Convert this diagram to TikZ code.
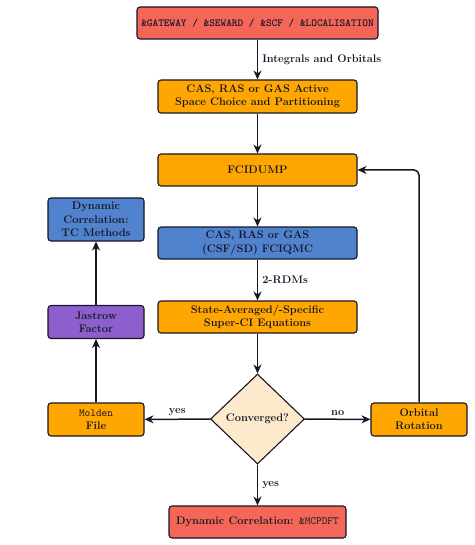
\documentclass[tikz,border=0pt]{standalone}
\usepackage{xcolor}
\usepackage{tikz}
\usetikzlibrary{arrows.meta}
\usetikzlibrary{shapes.geometric, calc}

\definecolor{ink}{RGB}{22,22,38}
\definecolor{redbox}{RGB}{244,102,88}
\definecolor{orangebox}{RGB}{255,166,0}
\definecolor{bluebox}{RGB}{80,130,205}
\definecolor{purplebox}{RGB}{140,95,205}
\definecolor{decision}{RGB}{253,234,204}

\begin{document}
\begin{tikzpicture}[x=1pt, y=-1pt,
    box/.style={draw=ink, line width=1.1pt, rounded corners=3pt, align=center,
        text=ink, font=\fontsize{11}{13.4}\selectfont\bfseries, inner sep=1pt},
    arr/.style={draw=ink, line width=1.5pt, -{Stealth[length=9pt,width=8pt]}},
    lbl/.style={text=ink, font=\fontsize{11}{13.4}\selectfont\bfseries, inner sep=1pt}]
    \useasboundingbox (0,0) rectangle (474,545);

    % Main column
    \node[box, fill=redbox, minimum width=241pt, minimum height=32pt] (input) at (257.5,23)
        {\fontsize{10.8}{13}\selectfont\ttfamily\&GATEWAY / \&SEWARD / \&SCF / \&LOCALISATION};
    \node[box, fill=orangebox, minimum width=199pt, minimum height=33pt] (space) at (257.5,96.5)
        {CAS, RAS or GAS Active\\Space Choice and Partitioning};
    \node[box, fill=orangebox, minimum width=199pt, minimum height=32pt] (fcidump) at (257.5,170) {FCIDUMP};
    \node[box, fill=bluebox, minimum width=199pt, minimum height=32pt] (fciqmc) at (257.5,243)
        {CAS, RAS or GAS\\(CSF/SD) FCIQMC};
    \node[box, fill=orangebox, minimum width=199pt, minimum height=32pt] (superci) at (257.5,317)
        {State-Averaged/-Specific\\Super-CI Equations};
    \node[draw=ink, line width=1.1pt, fill=decision, diamond, minimum width=94pt, minimum height=90pt,
        inner sep=1pt, text=ink, font=\fontsize{11}{13.4}\selectfont\bfseries] (conv) at (257.5,419) {Converged?};
    \node[box, fill=redbox, minimum width=177pt, minimum height=32pt] (mcpdft) at (257.5,522)
        {Dynamic Correlation: {\ttfamily\mdseries\&MCPDFT}};

    % Side boxes
    \node[box, fill=orangebox, minimum width=96pt, minimum height=33pt] (molden) at (96,419.5)
        {{\ttfamily\mdseries Molden}\\File};
    \node[box, fill=orangebox, minimum width=96pt, minimum height=33pt] (rotation) at (419,419.5)
        {Orbital\\Rotation};
    \node[box, fill=purplebox, minimum width=96pt, minimum height=33pt] (jastrow) at (96,322)
        {Jastrow\\Factor};
    \node[box, fill=bluebox, minimum width=96pt, minimum height=43pt] (tc) at (96,219.5)
        {Dynamic\\Correlation:\\TC Methods};

    % Arrows
    \draw[arr] (input) -- node[lbl, right=3pt] {Integrals and Orbitals} (space);
    \draw[arr] (space) -- (fcidump);
    \draw[arr] (fcidump) -- (fciqmc);
    \draw[arr] (fciqmc) -- node[lbl, right=3pt] {2-RDMs} (superci);
    \draw[arr] (superci) -- (conv);
    \draw[arr] (conv) -- node[lbl, above=2pt] {yes} (molden);
    \draw[arr] (conv) -- node[lbl, above=2pt] {no} (rotation);
    \draw[arr] (conv) -- node[lbl, right=3pt] {yes} (mcpdft);
    \draw[arr, rounded corners=5pt] (rotation.north) |- (fcidump.east);
    \draw[arr] (molden) -- (jastrow);
    \draw[arr] (jastrow) -- (tc);
\end{tikzpicture}
\end{document}
